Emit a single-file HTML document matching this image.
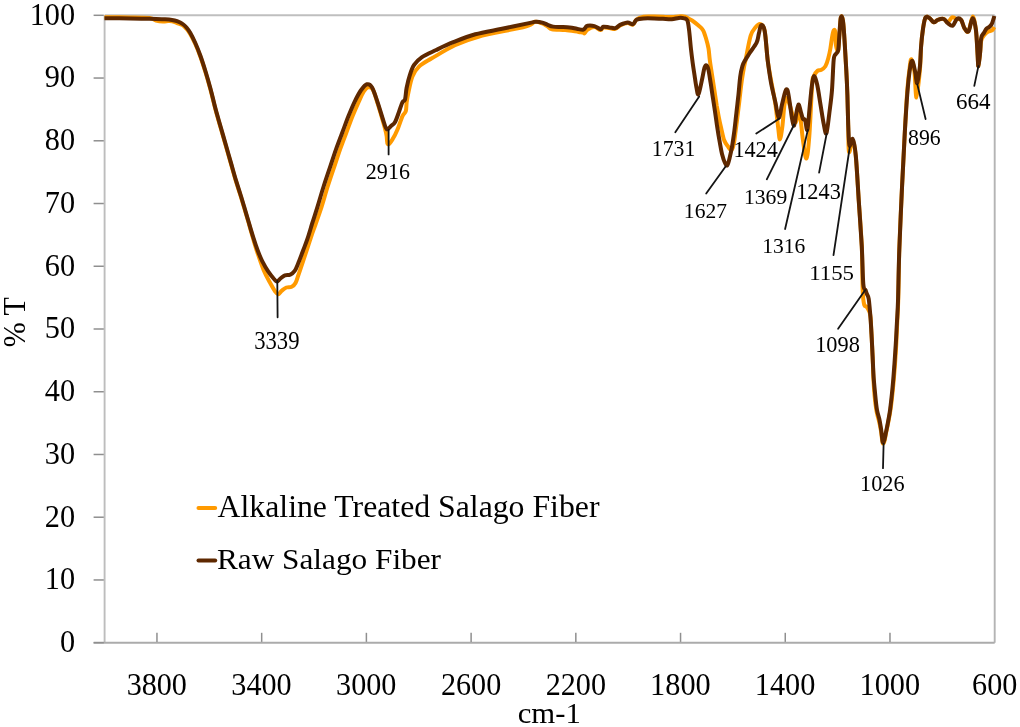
<!DOCTYPE html>
<html><head><meta charset="utf-8"><title>FTIR spectra</title>
<style>html,body{margin:0;padding:0;background:#fff;width:1020px;height:727px;overflow:hidden}svg{display:block}</style>
</head><body>
<svg width="1020" height="727" viewBox="0 0 1020 727"><rect x="0" y="0" width="1020" height="727" fill="#fff"/>
<g stroke-width="1.9" fill="none"><line x1="104.6" y1="15.3" x2="994.7" y2="15.3" stroke="#bfbfbf"/><line x1="104.6" y1="15.3" x2="104.6" y2="642.7" stroke="#bdbdbd"/><line x1="994.7" y1="15.3" x2="994.7" y2="642.7" stroke="#b4b4b4"/><line x1="93.6" y1="642.7" x2="994.7" y2="642.7" stroke="#ababab"/></g>
<g stroke="#8f8f8f" stroke-width="1.5" fill="none"><line x1="93.6" y1="642.70" x2="103.8" y2="642.70"/><line x1="93.6" y1="579.96" x2="103.8" y2="579.96"/><line x1="93.6" y1="517.22" x2="103.8" y2="517.22"/><line x1="93.6" y1="454.48" x2="103.8" y2="454.48"/><line x1="93.6" y1="391.74" x2="103.8" y2="391.74"/><line x1="93.6" y1="329.00" x2="103.8" y2="329.00"/><line x1="93.6" y1="266.26" x2="103.8" y2="266.26"/><line x1="93.6" y1="203.52" x2="103.8" y2="203.52"/><line x1="93.6" y1="140.78" x2="103.8" y2="140.78"/><line x1="93.6" y1="78.04" x2="103.8" y2="78.04"/><line x1="93.6" y1="15.30" x2="103.8" y2="15.30"/><line x1="156.96" y1="632.8" x2="156.96" y2="641.9000000000001"/><line x1="261.68" y1="632.8" x2="261.68" y2="641.9000000000001"/><line x1="366.39" y1="632.8" x2="366.39" y2="641.9000000000001"/><line x1="471.11" y1="632.8" x2="471.11" y2="641.9000000000001"/><line x1="575.83" y1="632.8" x2="575.83" y2="641.9000000000001"/><line x1="680.55" y1="632.8" x2="680.55" y2="641.9000000000001"/><line x1="785.26" y1="632.8" x2="785.26" y2="641.9000000000001"/><line x1="889.98" y1="632.8" x2="889.98" y2="641.9000000000001"/></g>
<path d="M104.5,17.2 C108.8,17.2 122.5,17.3 130.0,17.4 C137.5,17.5 145.2,17.5 149.5,18.0 C153.8,18.5 153.8,19.9 156.0,20.5 C158.2,21.1 161.0,21.5 163.0,21.6 C165.0,21.7 166.5,21.1 168.0,21.0 C169.5,20.9 170.5,20.9 172.0,21.2 C173.5,21.5 175.2,22.4 177.0,23.0 C178.8,23.6 180.9,24.0 182.5,25.0 C184.1,26.0 185.2,27.3 186.5,28.8 C187.8,30.3 188.7,31.5 190.2,34.0 C191.7,36.5 193.6,40.2 195.3,44.0 C197.0,47.8 198.7,52.0 200.4,56.7 C202.1,61.4 203.7,66.5 205.4,72.0 C207.1,77.5 208.8,83.5 210.5,89.8 C212.2,96.1 213.9,103.6 215.6,110.0 C217.3,116.4 219.0,122.0 220.7,128.0 C222.4,134.0 224.1,139.9 225.8,145.8 C227.5,151.7 229.2,157.7 230.9,163.6 C232.6,169.5 234.4,176.2 236.0,181.4 C237.6,186.6 239.0,190.7 240.3,195.0 C241.7,199.3 242.7,202.9 244.1,207.5 C245.5,212.1 247.1,217.6 248.6,222.8 C250.1,228.0 251.6,233.4 253.1,238.5 C254.6,243.6 255.9,248.2 257.7,253.5 C259.5,258.8 261.7,265.4 263.7,270.2 C265.7,275.0 267.9,278.7 269.8,282.2 C271.7,285.7 273.7,289.3 275.1,291.3 C276.5,293.3 277.0,294.4 278.1,294.3 C279.2,294.2 280.5,291.7 281.9,290.6 C283.3,289.5 284.8,288.1 286.4,287.5 C288.0,286.9 290.2,287.6 291.7,286.8 C293.2,286.1 294.4,285.0 295.5,283.0 C296.6,281.0 297.2,278.3 298.5,274.7 C299.8,271.1 301.6,265.6 303.1,261.1 C304.6,256.6 306.1,252.0 307.6,247.5 C309.1,243.0 310.8,237.7 312.1,233.9 C313.4,230.2 313.7,229.5 315.3,225.0 C316.9,220.5 319.4,213.5 321.5,207.1 C323.6,200.7 325.6,193.0 327.7,186.5 C329.8,180.0 331.8,174.1 333.9,167.9 C336.0,161.7 338.0,155.2 340.1,149.3 C342.2,143.5 344.2,138.3 346.3,132.8 C348.4,127.3 350.4,121.5 352.5,116.3 C354.6,111.1 356.8,105.9 358.7,101.8 C360.6,97.7 362.2,93.9 363.8,91.5 C365.4,89.1 366.5,87.7 368.0,87.4 C369.5,87.1 371.2,86.7 372.8,89.5 C374.4,92.3 375.6,96.8 377.8,104.0 C380.0,111.2 384.4,125.9 386.0,132.6 C387.6,139.3 386.6,143.1 387.7,144.2 C388.8,145.3 391.0,141.7 392.6,139.2 C394.2,136.7 396.0,133.2 397.6,129.3 C399.2,125.5 401.1,119.1 402.5,116.1 C403.9,113.1 405.1,113.4 405.8,111.2 C406.5,109.0 406.2,105.9 406.6,102.9 C407.0,99.9 407.3,97.4 408.3,93.0 C409.3,88.6 410.6,80.9 412.4,76.5 C414.2,72.1 415.8,69.6 419.0,66.6 C422.2,63.6 425.4,62.1 431.4,58.6 C437.4,55.1 447.1,48.9 454.9,45.3 C462.7,41.6 466.6,39.8 478.4,36.7 C490.2,33.6 516.1,29.0 525.5,26.5 C534.9,24.0 532.1,22.3 534.9,21.8 C537.7,21.3 540.3,22.7 542.4,23.5 C544.5,24.3 546.1,25.6 547.7,26.5 C549.3,27.4 549.1,28.6 552.0,29.2 C554.9,29.8 560.9,29.7 565.3,30.1 C569.7,30.6 575.5,31.5 578.5,31.9 C581.5,32.3 582.0,32.3 583.0,32.5 C584.0,32.7 584.0,33.7 584.7,33.2 C585.4,32.7 585.8,30.7 587.4,29.7 C589.0,28.7 592.2,26.9 594.4,27.0 C596.6,27.1 599.1,29.9 600.6,30.0 C602.1,30.1 601.8,27.8 603.3,27.5 C604.8,27.2 607.4,27.8 609.4,28.0 C611.4,28.2 613.4,29.3 615.3,28.8 C617.2,28.3 618.5,26.2 620.6,25.2 C622.7,24.2 625.5,23.1 627.6,23.0 C629.7,22.9 631.5,25.2 633.0,24.6 C634.5,24.0 634.8,20.8 636.5,19.5 C638.2,18.2 640.6,17.3 643.5,16.8 C646.4,16.3 650.9,16.6 654.1,16.6 C657.4,16.6 660.0,16.7 663.0,16.8 C666.0,16.9 669.2,17.1 671.8,17.0 C674.4,16.9 676.6,16.6 678.8,16.5 C681.0,16.4 682.6,15.9 684.8,16.6 C687.0,17.3 689.9,19.1 692.1,20.5 C694.3,21.9 696.4,23.7 698.2,25.3 C700.0,26.9 701.7,28.0 703.0,30.2 C704.3,32.4 705.2,35.7 706.1,38.7 C707.0,41.7 707.9,44.9 708.5,48.4 C709.1,51.9 709.2,55.5 709.8,60.0 C710.4,64.5 711.3,70.2 712.1,75.2 C712.9,80.2 713.6,85.2 714.4,90.3 C715.2,95.3 716.0,101.0 716.7,105.5 C717.5,110.0 718.1,113.8 718.9,117.6 C719.6,121.4 720.3,124.4 721.2,128.2 C722.1,132.0 723.1,137.3 724.2,140.3 C725.3,143.3 726.9,144.8 728.0,146.4 C729.1,148.1 730.2,150.5 731.1,150.2 C732.0,149.9 732.9,148.0 733.6,144.8 C734.4,141.6 734.9,136.5 735.6,131.2 C736.3,125.9 737.2,118.5 737.9,113.0 C738.6,107.5 739.1,103.2 739.7,97.9 C740.3,92.6 741.0,86.2 741.7,81.2 C742.4,76.2 743.2,71.5 743.9,67.6 C744.6,63.7 744.9,63.3 746.0,58.0 C747.1,52.7 749.1,40.8 750.7,35.7 C752.3,30.6 753.8,29.4 755.4,27.5 C757.0,25.6 758.5,23.4 760.1,24.0 C761.7,24.6 763.4,24.4 764.7,31.0 C766.1,37.6 766.4,51.7 768.2,63.8 C770.0,75.9 773.6,93.1 775.3,103.6 C776.9,114.1 777.3,121.0 778.1,127.0 C778.9,133.0 779.2,139.5 779.9,139.5 C780.6,139.5 781.5,133.0 782.3,127.0 C783.1,121.0 783.8,108.4 784.6,103.6 C785.4,98.8 786.1,97.8 787.0,98.0 C787.9,98.2 788.3,101.0 789.7,105.0 C791.1,109.0 793.7,121.0 795.2,122.2 C796.7,123.4 797.6,112.4 798.5,112.0 C799.4,111.6 800.0,115.4 800.7,120.0 C801.4,124.6 802.0,133.4 802.9,139.8 C803.8,146.2 805.3,159.1 806.4,158.5 C807.5,157.9 808.3,148.4 809.3,136.0 C810.3,123.6 811.4,94.0 812.2,84.0 C813.0,74.0 813.0,78.2 813.9,76.0 C814.8,73.8 816.5,71.6 817.7,70.6 C818.9,69.6 819.7,70.7 821.0,70.0 C822.3,69.3 824.2,68.1 825.4,66.2 C826.6,64.3 827.4,61.5 828.2,58.5 C829.0,55.5 829.8,52.0 830.4,48.5 C831.0,45.0 831.5,40.5 832.0,37.5 C832.5,34.5 833.2,31.3 833.7,30.4 C834.2,29.5 834.9,29.6 835.3,32.0 C835.7,34.4 835.4,41.9 835.9,45.0 C836.4,48.1 837.5,52.0 838.1,50.7 C838.7,49.5 838.8,43.0 839.2,37.5 C839.7,32.0 840.2,20.4 840.8,17.7 C841.4,14.9 842.4,16.8 843.0,21.0 C843.6,25.2 844.2,34.7 844.7,43.0 C845.2,51.3 845.8,61.9 846.3,70.6 C846.8,79.3 847.1,85.9 847.4,95.0 C847.7,104.1 847.9,115.5 848.2,125.0 C848.5,134.5 848.2,149.5 849.0,152.0 C849.8,154.5 851.6,139.2 852.7,140.0 C853.8,140.8 854.8,146.3 855.8,156.5 C856.8,166.7 857.8,186.2 858.8,201.2 C859.8,216.2 861.2,232.9 861.8,246.7 C862.4,260.5 862.3,275.8 862.5,284.0 C862.7,292.2 862.7,292.5 863.0,296.0 C863.3,299.5 863.7,303.2 864.3,305.0 C864.9,306.8 865.9,305.8 866.8,307.0 C867.7,308.2 868.9,310.2 869.5,312.0 C870.1,313.8 870.3,314.3 870.6,318.0 C870.9,321.7 871.2,327.6 871.5,334.0 C871.8,340.4 872.3,348.8 872.6,356.1 C872.9,363.5 873.1,371.5 873.4,378.1 C873.7,384.7 874.1,390.2 874.6,395.7 C875.1,401.2 875.8,406.8 876.5,411.0 C877.2,415.2 878.2,417.7 879.0,421.0 C879.8,424.3 880.4,427.3 881.0,431.0 C881.6,434.7 882.1,441.3 882.7,443.0 C883.3,444.7 884.0,442.6 884.5,441.0 C885.0,439.4 885.4,436.3 886.0,433.2 C886.6,430.1 887.5,426.2 888.3,422.2 C889.1,418.1 889.8,414.4 890.6,408.9 C891.4,403.4 892.2,396.1 892.9,389.1 C893.6,382.1 894.2,374.4 894.8,367.1 C895.3,359.8 895.8,352.5 896.2,345.1 C896.6,337.8 896.9,330.4 897.2,323.0 C897.5,315.6 897.9,313.2 898.2,301.0 C898.6,288.8 898.7,268.9 899.3,250.0 C899.9,231.1 901.1,207.2 902.0,187.6 C902.9,168.0 903.9,148.7 904.8,132.6 C905.7,116.5 906.4,102.3 907.2,91.3 C908.0,80.3 909.1,71.8 909.8,66.5 C910.5,61.2 910.7,58.6 911.5,59.5 C912.3,60.4 913.7,65.7 914.5,72.0 C915.3,78.3 915.6,97.8 916.5,97.5 C917.4,97.2 919.1,78.5 919.9,70.0 C920.7,61.5 920.6,53.3 921.1,46.3 C921.6,39.3 922.4,32.9 923.1,28.1 C923.9,23.3 924.5,19.0 925.6,17.4 C926.7,15.7 928.3,17.4 929.7,18.2 C931.1,19.0 932.4,22.0 933.8,22.3 C935.2,22.6 936.2,20.4 937.9,19.9 C939.5,19.3 942.1,18.6 943.7,19.0 C945.4,19.4 946.4,22.8 947.8,22.5 C949.2,22.2 950.5,18.0 952.0,17.4 C953.5,16.8 955.4,18.6 956.9,19.0 C958.4,19.4 959.9,18.4 961.1,19.9 C962.4,21.4 963.2,26.2 964.4,28.1 C965.6,30.0 967.1,33.3 968.5,31.4 C969.9,29.5 971.4,16.9 972.6,16.6 C973.8,16.3 975.1,23.5 975.9,29.8 C976.7,36.1 977.2,48.5 977.6,54.5 C978.0,60.5 978.0,66.4 978.4,66.1 C978.8,65.8 979.6,57.1 980.1,52.9 C980.6,48.7 980.5,43.8 981.2,40.8 C981.9,37.8 983.1,36.5 984.3,35.0 C985.5,33.5 986.9,32.3 988.2,31.5 C989.5,30.7 991.0,31.1 992.0,30.4 C993.0,29.6 993.9,27.6 994.3,27.0" fill="none" stroke="#ff9a00" stroke-width="4" stroke-linejoin="round" stroke-linecap="butt"/>
<path d="M104.5,18.2 C108.8,18.2 122.5,18.3 130.0,18.4 C137.5,18.5 143.7,18.6 149.5,18.8 C155.3,19.0 161.2,19.1 165.0,19.3 C168.8,19.5 170.0,19.6 172.0,19.9 C174.0,20.2 175.2,20.5 177.0,21.2 C178.8,21.9 180.9,22.8 182.5,23.9 C184.1,24.9 185.2,26.0 186.5,27.5 C187.8,29.0 188.7,30.2 190.2,32.8 C191.7,35.4 193.6,39.2 195.3,43.0 C197.0,46.8 198.7,51.0 200.4,55.7 C202.1,60.4 203.7,65.5 205.4,71.0 C207.1,76.5 208.8,82.5 210.5,88.8 C212.2,95.1 213.9,102.7 215.6,109.1 C217.3,115.5 219.0,121.0 220.7,127.0 C222.4,132.9 224.1,138.9 225.8,144.8 C227.5,150.7 229.2,156.7 230.9,162.6 C232.6,168.5 234.4,175.2 236.0,180.4 C237.6,185.6 239.0,189.7 240.3,194.0 C241.7,198.3 242.7,201.9 244.1,206.5 C245.5,211.1 247.1,216.7 248.6,221.8 C250.1,226.9 251.6,232.1 253.1,236.9 C254.6,241.7 256.2,246.5 257.7,250.5 C259.2,254.5 260.4,257.6 262.2,261.1 C264.0,264.6 266.4,268.8 268.3,271.7 C270.2,274.6 272.2,276.9 273.6,278.5 C275.1,280.1 275.9,281.5 277.0,281.5 C278.1,281.5 279.1,279.5 280.4,278.5 C281.7,277.5 283.3,276.0 284.9,275.4 C286.5,274.8 288.6,275.4 290.2,274.7 C291.8,273.9 293.3,272.9 294.7,270.9 C296.1,268.9 297.1,266.0 298.5,262.6 C299.9,259.2 301.6,254.5 303.1,250.5 C304.6,246.5 306.1,242.9 307.6,238.4 C309.1,233.9 310.5,228.9 312.1,223.7 C313.7,218.5 315.5,213.3 317.4,207.1 C319.3,200.9 321.5,193.0 323.6,186.5 C325.7,180.0 327.7,174.1 329.8,167.9 C331.9,161.7 333.9,155.2 336.0,149.3 C338.1,143.5 340.1,138.3 342.2,132.8 C344.3,127.3 346.3,121.5 348.4,116.3 C350.5,111.1 352.5,106.1 354.6,101.8 C356.7,97.5 358.8,93.4 360.8,90.5 C362.9,87.6 365.0,84.8 366.9,84.3 C368.8,83.8 370.3,84.3 372.1,87.4 C373.9,90.5 375.9,97.3 377.8,102.9 C379.7,108.5 382.0,116.7 383.5,121.1 C385.0,125.5 385.6,128.5 386.8,129.3 C388.1,130.1 389.6,127.2 391.0,126.0 C392.4,124.8 393.7,124.4 395.1,121.9 C396.5,119.4 398.0,114.5 399.2,111.2 C400.4,107.9 401.5,104.0 402.5,102.1 C403.5,100.2 404.3,101.9 405.0,99.6 C405.7,97.2 405.8,92.1 406.6,88.0 C407.4,83.9 408.6,78.8 409.9,74.9 C411.1,71.1 412.1,67.9 414.1,64.9 C416.1,61.9 418.3,59.6 422.0,57.1 C425.7,54.6 430.9,52.5 436.1,50.0 C441.3,47.5 446.8,44.8 453.3,42.2 C459.8,39.6 467.2,36.5 475.3,34.3 C483.4,32.1 492.9,30.7 502.0,28.8 C511.1,26.9 524.5,24.1 530.2,22.9 C535.9,21.7 534.2,21.8 536.2,21.7 C538.2,21.6 540.5,22.1 542.4,22.6 C544.3,23.1 545.9,24.1 547.7,24.8 C549.5,25.5 550.8,26.2 553.0,26.6 C555.2,27.0 558.1,26.9 560.9,27.0 C563.7,27.1 567.1,27.1 569.7,27.4 C572.4,27.7 574.6,28.4 576.8,28.8 C579.0,29.2 581.5,29.9 583.0,29.7 C584.5,29.5 584.9,28.1 585.6,27.4 C586.3,26.7 585.9,25.9 587.4,25.7 C588.9,25.5 592.2,25.5 594.4,26.1 C596.6,26.7 599.1,29.1 600.6,29.2 C602.1,29.3 601.8,27.1 603.3,26.8 C604.8,26.5 607.4,27.2 609.4,27.4 C611.4,27.6 613.4,28.6 615.3,28.1 C617.2,27.6 618.5,25.6 620.6,24.6 C622.7,23.7 625.5,22.5 627.6,22.4 C629.7,22.3 631.5,24.6 633.0,24.1 C634.5,23.7 634.8,20.6 636.5,19.7 C638.2,18.8 640.6,18.6 643.5,18.4 C646.4,18.2 650.9,18.3 654.1,18.4 C657.4,18.5 660.0,18.6 663.0,18.8 C666.0,19.0 669.2,19.5 671.8,19.3 C674.4,19.1 676.7,18.1 678.8,17.9 C680.9,17.7 682.9,17.9 684.3,18.3 C685.7,18.8 686.6,18.6 687.4,20.6 C688.2,22.6 688.5,25.6 689.1,30.2 C689.7,34.8 690.3,42.9 690.9,48.4 C691.5,53.9 692.1,58.5 692.7,62.9 C693.3,67.3 693.9,71.0 694.5,75.0 C695.1,79.0 695.7,84.0 696.4,87.2 C697.1,90.4 697.5,95.7 698.5,94.2 C699.5,92.7 701.3,82.6 702.3,78.2 C703.3,73.8 703.8,69.8 704.5,67.6 C705.2,65.4 705.8,65.0 706.4,65.3 C707.0,65.5 707.6,66.2 708.3,69.1 C709.0,72.0 709.8,77.9 710.6,82.7 C711.4,87.5 712.1,92.9 712.9,97.9 C713.7,103.0 714.5,108.0 715.2,113.0 C716.0,118.0 716.6,123.4 717.4,128.2 C718.1,133.0 718.9,137.5 719.7,141.8 C720.5,146.1 721.1,150.4 722.0,153.9 C722.9,157.4 724.1,161.1 725.0,163.0 C725.9,164.9 726.5,166.1 727.3,165.3 C728.0,164.6 728.8,161.4 729.5,158.5 C730.2,155.6 731.0,152.2 731.8,147.9 C732.6,143.6 733.3,138.5 734.1,132.7 C734.9,126.9 735.6,119.6 736.4,113.0 C737.1,106.4 738.0,99.3 738.6,93.3 C739.2,87.2 739.6,81.2 740.2,76.7 C740.8,72.2 741.6,68.8 742.4,66.1 C743.2,63.4 743.8,62.6 745.0,60.5 C746.2,58.4 747.6,56.3 749.5,53.3 C751.4,50.3 755.0,46.0 756.6,42.7 C758.2,39.4 758.1,36.3 758.9,33.4 C759.7,30.5 760.2,25.6 761.2,25.2 C762.2,24.8 763.6,25.2 764.7,31.1 C765.8,37.0 766.7,52.0 767.7,60.6 C768.8,69.2 769.7,75.6 771.0,82.6 C772.3,89.6 774.1,96.5 775.4,102.4 C776.7,108.3 777.6,117.4 778.7,117.8 C779.8,118.2 780.9,109.0 782.0,104.6 C783.1,100.2 784.4,93.8 785.3,91.4 C786.2,89.0 786.8,88.5 787.5,90.3 C788.2,92.1 789.0,97.8 789.7,102.4 C790.4,107.0 791.2,114.0 791.9,117.8 C792.6,121.6 793.4,126.2 794.1,125.5 C794.8,124.8 795.6,116.9 796.3,113.4 C797.0,109.9 797.8,105.0 798.5,104.6 C799.2,104.2 800.0,108.8 800.7,111.2 C801.4,113.6 802.2,117.4 802.9,118.9 C803.6,120.4 804.4,118.2 805.1,120.0 C805.8,121.8 806.6,131.7 807.3,129.9 C808.0,128.1 808.8,116.2 809.5,109.0 C810.2,101.8 811.0,92.5 811.7,87.0 C812.4,81.5 813.0,76.4 813.9,76.0 C814.8,75.6 816.1,80.0 817.2,84.8 C818.3,89.6 819.4,98.0 820.5,104.6 C821.6,111.2 822.8,119.6 823.8,124.4 C824.8,129.2 825.5,135.0 826.4,133.2 C827.3,131.4 828.4,120.6 829.3,113.4 C830.2,106.2 831.3,99.0 832.0,90.0 C832.7,81.0 833.1,65.6 833.7,59.6 C834.4,53.6 835.2,55.5 835.9,54.0 C836.6,52.5 837.5,53.5 838.1,50.7 C838.7,48.0 838.8,43.0 839.2,37.5 C839.7,32.0 840.2,20.4 840.8,17.7 C841.4,14.9 842.4,16.8 843.0,21.0 C843.6,25.2 844.2,34.7 844.7,43.0 C845.2,51.3 845.8,61.9 846.3,70.6 C846.8,79.3 847.1,85.9 847.4,95.0 C847.7,104.1 847.9,116.6 848.2,125.0 C848.6,133.4 848.8,143.2 849.5,145.5 C850.2,147.8 851.7,137.3 852.7,139.0 C853.8,140.7 854.8,145.4 855.8,155.8 C856.8,166.2 857.8,186.0 858.8,201.2 C859.8,216.3 861.0,232.9 861.8,246.7 C862.5,260.5 862.7,276.8 863.3,284.0 C863.9,291.2 864.9,288.3 865.5,290.0 C866.1,291.7 866.4,292.5 866.9,294.0 C867.4,295.5 868.1,295.1 868.7,298.8 C869.3,302.5 869.9,310.5 870.4,316.4 C870.9,322.3 871.1,327.4 871.5,334.0 C871.9,340.6 872.2,348.8 872.6,356.1 C873.0,363.5 873.2,371.5 873.7,378.1 C874.2,384.7 874.8,390.4 875.3,395.7 C875.8,401.0 876.3,406.1 877.0,410.0 C877.7,413.9 878.6,415.7 879.3,419.0 C880.0,422.3 880.6,426.2 881.2,430.0 C881.8,433.8 882.2,440.3 882.7,442.0 C883.2,443.7 883.8,441.5 884.3,440.0 C884.8,438.5 885.2,436.2 885.8,433.2 C886.4,430.2 887.3,426.2 888.0,422.2 C888.7,418.1 889.5,414.4 890.2,408.9 C890.9,403.4 891.7,396.1 892.4,389.1 C893.1,382.1 893.7,374.4 894.2,367.1 C894.8,359.8 895.2,352.5 895.7,345.1 C896.2,337.8 896.5,330.4 896.9,323.0 C897.3,315.6 897.6,313.2 898.0,301.0 C898.4,288.8 898.6,268.9 899.3,250.0 C900.0,231.1 901.1,207.2 902.0,187.6 C902.9,168.0 903.9,148.7 904.8,132.6 C905.7,116.5 906.6,102.3 907.5,91.3 C908.4,80.3 909.5,71.5 910.3,66.5 C911.1,61.5 911.7,60.1 912.5,61.0 C913.3,61.9 914.4,68.3 915.2,72.0 C916.0,75.7 916.4,83.9 917.2,83.0 C918.0,82.1 919.2,72.6 919.9,66.5 C920.5,60.4 920.6,52.7 921.1,46.3 C921.6,39.9 922.4,32.9 923.1,28.1 C923.9,23.3 924.5,19.0 925.6,17.4 C926.7,15.7 928.3,17.4 929.7,18.2 C931.1,19.0 932.4,22.0 933.8,22.3 C935.2,22.6 936.2,20.4 937.9,19.9 C939.5,19.3 942.1,18.4 943.7,19.0 C945.4,19.6 946.3,22.1 947.8,23.2 C949.3,24.3 951.3,26.3 952.8,25.6 C954.3,24.9 955.5,19.9 956.9,19.0 C958.3,18.1 959.9,18.4 961.1,19.9 C962.4,21.4 963.2,26.2 964.4,28.1 C965.6,30.0 967.1,33.0 968.5,31.4 C969.9,29.8 971.4,18.5 972.6,18.2 C973.8,17.9 975.1,23.8 975.9,29.8 C976.7,35.9 977.2,48.5 977.6,54.5 C978.0,60.5 978.0,66.4 978.4,66.1 C978.8,65.8 979.6,57.6 980.1,52.9 C980.6,48.2 980.6,41.3 981.2,38.0 C981.8,34.7 982.9,34.6 983.8,33.1 C984.7,31.6 985.5,29.8 986.5,28.7 C987.5,27.6 988.9,27.4 989.8,26.5 C990.7,25.6 991.4,24.9 992.0,23.5 C992.6,22.1 993.3,19.6 993.7,18.3 C994.1,17.1 994.2,16.4 994.3,16.0" fill="none" stroke="#5e2800" stroke-width="4" stroke-linejoin="round" stroke-linecap="butt"/>
<g stroke="#141414" stroke-width="1.8" stroke-linecap="round"><line x1="277.3" y1="281" x2="277.6" y2="317.3"/><line x1="388.6" y1="130" x2="388.6" y2="154.4"/><line x1="699.2" y1="96.6" x2="675.3" y2="132.2"/><line x1="725.6" y1="166.5" x2="706.2" y2="193.5"/><line x1="779.5" y1="118.5" x2="756.3" y2="133.5"/><line x1="794.2" y1="124.5" x2="766.8" y2="179.3"/><line x1="807.8" y1="130" x2="785.1" y2="229"/><line x1="826.6" y1="134" x2="819.1" y2="172.7"/><line x1="849.7" y1="147.5" x2="833.5" y2="255.1"/><line x1="865.2" y1="289.9" x2="838.1" y2="328.8"/><line x1="883.6" y1="444" x2="883" y2="468.2"/><line x1="917.3" y1="84.3" x2="925.6" y2="119"/><line x1="978.4" y1="66.1" x2="974.3" y2="85.9"/></g>
<g font-family='"Liberation Serif", serif' fill="#000"><text transform="translate(254.17,349.26) scale(0.9293,1)" font-size="24.39" fill="#000">3339</text><text transform="translate(365.82,178.74) scale(0.9500,1)" font-size="23.24" fill="#000">2916</text><text transform="translate(651.84,156.48) scale(0.9771,1)" font-size="22.24" fill="#000">1731</text><text transform="translate(683.86,218.08) scale(1.0173,1)" font-size="21.18" fill="#000">1627</text><text transform="translate(733.40,157.10) scale(0.9320,1)" font-size="23.79" fill="#000">1424</text><text transform="translate(743.95,203.68) scale(1.0227,1)" font-size="21.18" fill="#000">1369</text><text transform="translate(762.26,253.38) scale(1.0173,1)" font-size="21.18" fill="#000">1316</text><text transform="translate(796.19,198.67) scale(0.9539,1)" font-size="23.43" fill="#000">1243</text><text transform="translate(809.14,279.69) scale(1.0728,1)" font-size="21.34" fill="#000">1155</text><text transform="translate(815.19,352.34) scale(0.9620,1)" font-size="23.24" fill="#000">1098</text><text transform="translate(859.99,491.24) scale(0.9715,1)" font-size="22.94" fill="#000">1026</text><text transform="translate(908.03,144.55) scale(0.9586,1)" font-size="22.69" fill="#000">896</text><text transform="translate(955.98,109.46) scale(1.0336,1)" font-size="22.24" fill="#000">664</text><text transform="translate(59.96,652.10) scale(0.935,1)" font-size="32.4">0</text><text transform="translate(44.82,589.36) scale(0.935,1)" font-size="32.4">10</text><text transform="translate(44.82,526.62) scale(0.935,1)" font-size="32.4">20</text><text transform="translate(44.82,463.88) scale(0.935,1)" font-size="32.4">30</text><text transform="translate(44.82,401.14) scale(0.935,1)" font-size="32.4">40</text><text transform="translate(44.82,338.40) scale(0.935,1)" font-size="32.4">50</text><text transform="translate(44.82,275.66) scale(0.935,1)" font-size="32.4">60</text><text transform="translate(44.82,212.92) scale(0.935,1)" font-size="32.4">70</text><text transform="translate(44.82,150.18) scale(0.935,1)" font-size="32.4">80</text><text transform="translate(44.82,87.44) scale(0.935,1)" font-size="32.4">90</text><text transform="translate(29.67,24.70) scale(0.935,1)" font-size="32.4">100</text><text transform="translate(126.63,695.0) scale(0.94,1)" font-size="32.1">3800</text><text transform="translate(231.35,695.0) scale(0.94,1)" font-size="32.1">3400</text><text transform="translate(336.07,695.0) scale(0.94,1)" font-size="32.1">3000</text><text transform="translate(440.94,695.0) scale(0.94,1)" font-size="32.1">2600</text><text transform="translate(545.66,695.0) scale(0.94,1)" font-size="32.1">2200</text><text transform="translate(650.07,695.0) scale(0.9445749412764256,1)" font-size="32.1">1800</text><text transform="translate(754.79,695.0) scale(0.9445749412764256,1)" font-size="32.1">1400</text><text transform="translate(859.50,695.0) scale(0.9445749412764256,1)" font-size="32.1">1000</text><text transform="translate(972.07,695.0) scale(0.94,1)" font-size="32.1">600</text><text transform="translate(517.67,722.61) scale(1.0501,1)" font-size="29.25" fill="#000">cm-1</text><text transform="translate(217.58,516.5) scale(1.0418,1)" font-size="30.5">Alkaline Treated Salago Fiber</text><text transform="translate(216.96,569.3) scale(1.0259,1)" font-size="30.5">Raw Salago Fiber</text><text transform="translate(25.3,347.30) rotate(-90) scale(0.9596,1)" font-size="31.2">% T</text></g>
<line x1="198.5" y1="508.1" x2="215.2" y2="508.1" stroke="#ff9a00" stroke-width="4" stroke-linecap="round"/>
<line x1="198.5" y1="560.5" x2="215.2" y2="560.5" stroke="#5e2800" stroke-width="4" stroke-linecap="round"/></svg>
</body></html>
